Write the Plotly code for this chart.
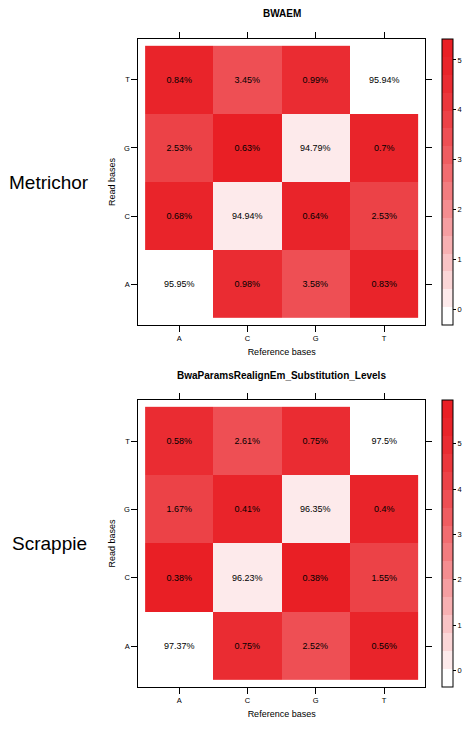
import numpy as np
import plotly.graph_objects as go

bases = ["A", "C", "G", "T"]
# rows: read base (A, C, G, T), columns: reference base (A, C, G, T); values in percent
metrichor = [
    [95.95, 0.98, 3.58, 0.83],
    [0.68, 94.94, 0.64, 2.53],
    [2.53, 0.63, 94.79, 0.70],
    [0.84, 3.45, 0.99, 95.94],
]
scrappie = [
    [97.37, 0.75, 2.52, 0.56],
    [0.38, 96.23, 0.38, 1.55],
    [1.67, 0.41, 96.35, 0.40],
    [0.58, 2.61, 0.75, 97.50],
]
titles = ["BWAEM", "BwaParamsRealignEm_Substitution_Levels"]
row_labels = ["Metrichor", "Scrappie"]
colorbar_ticks = [0, 1, 2, 3, 4, 5]

W, H = 474, 729
RED = (233, 31, 37)
NBANDS = 16
POW = 1.4


def band_colorscale(n):
    cs = []
    for k in range(n):
        f = 1 - (1 - k / (n - 1)) ** POW
        r = round(255 + (RED[0] - 255) * f)
        g = round(255 + (RED[1] - 255) * f)
        b = round(255 + (RED[2] - 255) * f)
        c = f"rgb({r},{g},{b})"
        cs.append([k / n, c])
        cs.append([(k + 1) / n, c])
    return cs


def px_x(p):
    return p / W


def px_y(p):
    return 1 - p / H


panels = [
    dict(data=metrichor, top=39, bottom=325),
    dict(data=scrappie, top=400, bottom=687),
]
left, right = 138.3, 425.0

fig = go.Figure()
annotations = []
for i, pnl in enumerate(panels):
    vals = np.array(pnl["data"], dtype=float)
    z = -np.log(vals / 100.0)
    zlo, zhi = z.min(), z.max()
    ext = 0.07 * (zhi - zlo)
    zmin, zmax = zlo - ext, zhi + ext
    text = [[f"{v:g}%" for v in row] for row in pnl["data"]]
    xa = "x" if i == 0 else "x2"
    ya = "y" if i == 0 else "y2"
    y0, y1 = px_y(pnl["bottom"]), px_y(pnl["top"])
    fig.add_trace(go.Heatmap(
        x=list(range(4)), y=list(range(4)), z=z,
        text=text, texttemplate="%{text}",
        textfont=dict(size=9, color="black", family="Liberation Sans, Arial"),
        colorscale=band_colorscale(NBANDS), zmin=zmin, zmax=zmax,
        xaxis=xa, yaxis=ya, hoverinfo="skip",
        colorbar=dict(
            x=px_x(442), xanchor="left", thickness=11,
            y=(y0 + y1) / 2, yanchor="middle", len=y1 - y0, lenmode="fraction",
            outlinecolor="black", outlinewidth=1,
            tickvals=colorbar_ticks, ticks="outside", ticklen=3,
            tickcolor="black", tickfont=dict(size=7.5, color="black"),
            xpad=0, ypad=0,
        ),
    ))
    axis_common = dict(
        range=[-0.6, 3.6], tickvals=list(range(4)), ticktext=bases,
        showline=True, linecolor="black", linewidth=1, mirror="ticks",
        ticks="outside", ticklen=6, tickcolor="black",
        tickfont=dict(size=7.5, color="black"), showgrid=False, zeroline=False,
        fixedrange=True,
    )
    fig.layout[("xaxis" if i == 0 else "xaxis2")] = dict(
        axis_common, domain=[px_x(left), px_x(right)], anchor=ya,
        title=dict(text="Reference bases", font=dict(size=9, color="black"), standoff=6),
    )
    fig.layout[("yaxis" if i == 0 else "yaxis2")] = dict(
        axis_common, domain=[y0, y1], anchor=xa,
        title=dict(text="Read bases", font=dict(size=9, color="black"), standoff=6),
    )
    annotations.append(dict(
        text=f"<b>{titles[i]}</b>", x=px_x((left + right) / 2),
        y=px_y(pnl["top"] - 25), xref="paper", yref="paper",
        showarrow=False, font=dict(size=10, color="black"),
        xanchor="center", yanchor="middle",
    ))
    annotations.append(dict(
        text=row_labels[i], x=px_x(49), y=px_y((pnl["top"] + pnl["bottom"]) / 2),
        xref="paper", yref="paper", showarrow=False,
        font=dict(size=19, color="black"), xanchor="center", yanchor="middle",
    ))

fig.update_layout(
    width=W, height=H, margin=dict(l=0, r=0, t=0, b=0),
    paper_bgcolor="white", plot_bgcolor="white",
    font=dict(family="Liberation Sans, Arial, sans-serif", color="black"),
    annotations=annotations, showlegend=False,
)
fig.write_html("out.html", config={"displayModeBar": False})
